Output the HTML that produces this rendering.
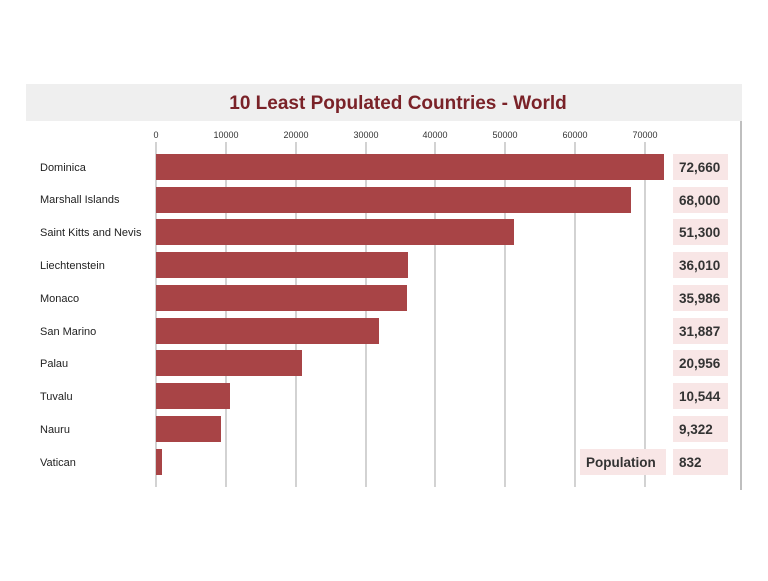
<!DOCTYPE html>
<html><head><style>
body{margin:0;background:#fff;}
svg text{font-family:"Liberation Sans",sans-serif;}
</style></head><body>
<svg width="768" height="576" xmlns="http://www.w3.org/2000/svg">
<rect x="26" y="84" width="716" height="37" fill="#efefef"/>
<text x="398" y="109" text-anchor="middle" font-size="19" font-weight="bold" fill="#7a2228">10 Least Populated Countries - World</text>
<line x1="741" y1="121" x2="741" y2="490" stroke="#aaa" stroke-width="1.5"/>
<g stroke="#bbb" stroke-width="1.3">
<line x1="156" y1="142" x2="156" y2="487"/><line x1="226" y1="142" x2="226" y2="487"/><line x1="296" y1="142" x2="296" y2="487"/><line x1="366" y1="142" x2="366" y2="487"/><line x1="435" y1="142" x2="435" y2="487"/><line x1="505" y1="142" x2="505" y2="487"/><line x1="575" y1="142" x2="575" y2="487"/><line x1="645" y1="142" x2="645" y2="487"/>
</g>
<g font-size="9" fill="#333" text-anchor="middle">
<text x="156" y="138">0</text><text x="226" y="138">10000</text><text x="296" y="138">20000</text><text x="366" y="138">30000</text><text x="435" y="138">40000</text><text x="505" y="138">50000</text><text x="575" y="138">60000</text><text x="645" y="138">70000</text>
</g>
<g fill="#a84446">
<rect x="156" y="154" width="508" height="26"/>
<rect x="156" y="187" width="475" height="26"/>
<rect x="156" y="219" width="358" height="26"/>
<rect x="156" y="252" width="252" height="26"/>
<rect x="156" y="285" width="251" height="26"/>
<rect x="156" y="318" width="223" height="26"/>
<rect x="156" y="350" width="146" height="26"/>
<rect x="156" y="383" width="74" height="26"/>
<rect x="156" y="416" width="65" height="26"/>
<rect x="156" y="449" width="6" height="26"/>
</g>
<g font-size="11" fill="#222">
<text x="40" y="171">Dominica</text><text x="40" y="203">Marshall Islands</text><text x="40" y="236">Saint Kitts and Nevis</text><text x="40" y="269">Liechtenstein</text><text x="40" y="302">Monaco</text><text x="40" y="335">San Marino</text><text x="40" y="367">Palau</text><text x="40" y="400">Tuvalu</text><text x="40" y="433">Nauru</text><text x="40" y="466">Vatican</text>
</g>
<g fill="#f8e6e6">
<rect x="673" y="154" width="55" height="26"/><rect x="673" y="187" width="55" height="26"/><rect x="673" y="219" width="55" height="26"/><rect x="673" y="252" width="55" height="26"/><rect x="673" y="285" width="55" height="26"/><rect x="673" y="318" width="55" height="26"/><rect x="673" y="350" width="55" height="26"/><rect x="673" y="383" width="55" height="26"/><rect x="673" y="416" width="55" height="26"/><rect x="673" y="449" width="55" height="26"/>
<rect x="580" y="449" width="86" height="26"/>
</g>
<g font-size="13.5" font-weight="bold" fill="#333">
<text x="679" y="172">72,660</text><text x="679" y="205">68,000</text><text x="679" y="237">51,300</text><text x="679" y="270">36,010</text><text x="679" y="303">35,986</text><text x="679" y="336">31,887</text><text x="679" y="368">20,956</text><text x="679" y="401">10,544</text><text x="679" y="434">9,322</text><text x="679" y="467">832</text>
<text x="586" y="467">Population</text>
</g>
</svg>
</body></html>
